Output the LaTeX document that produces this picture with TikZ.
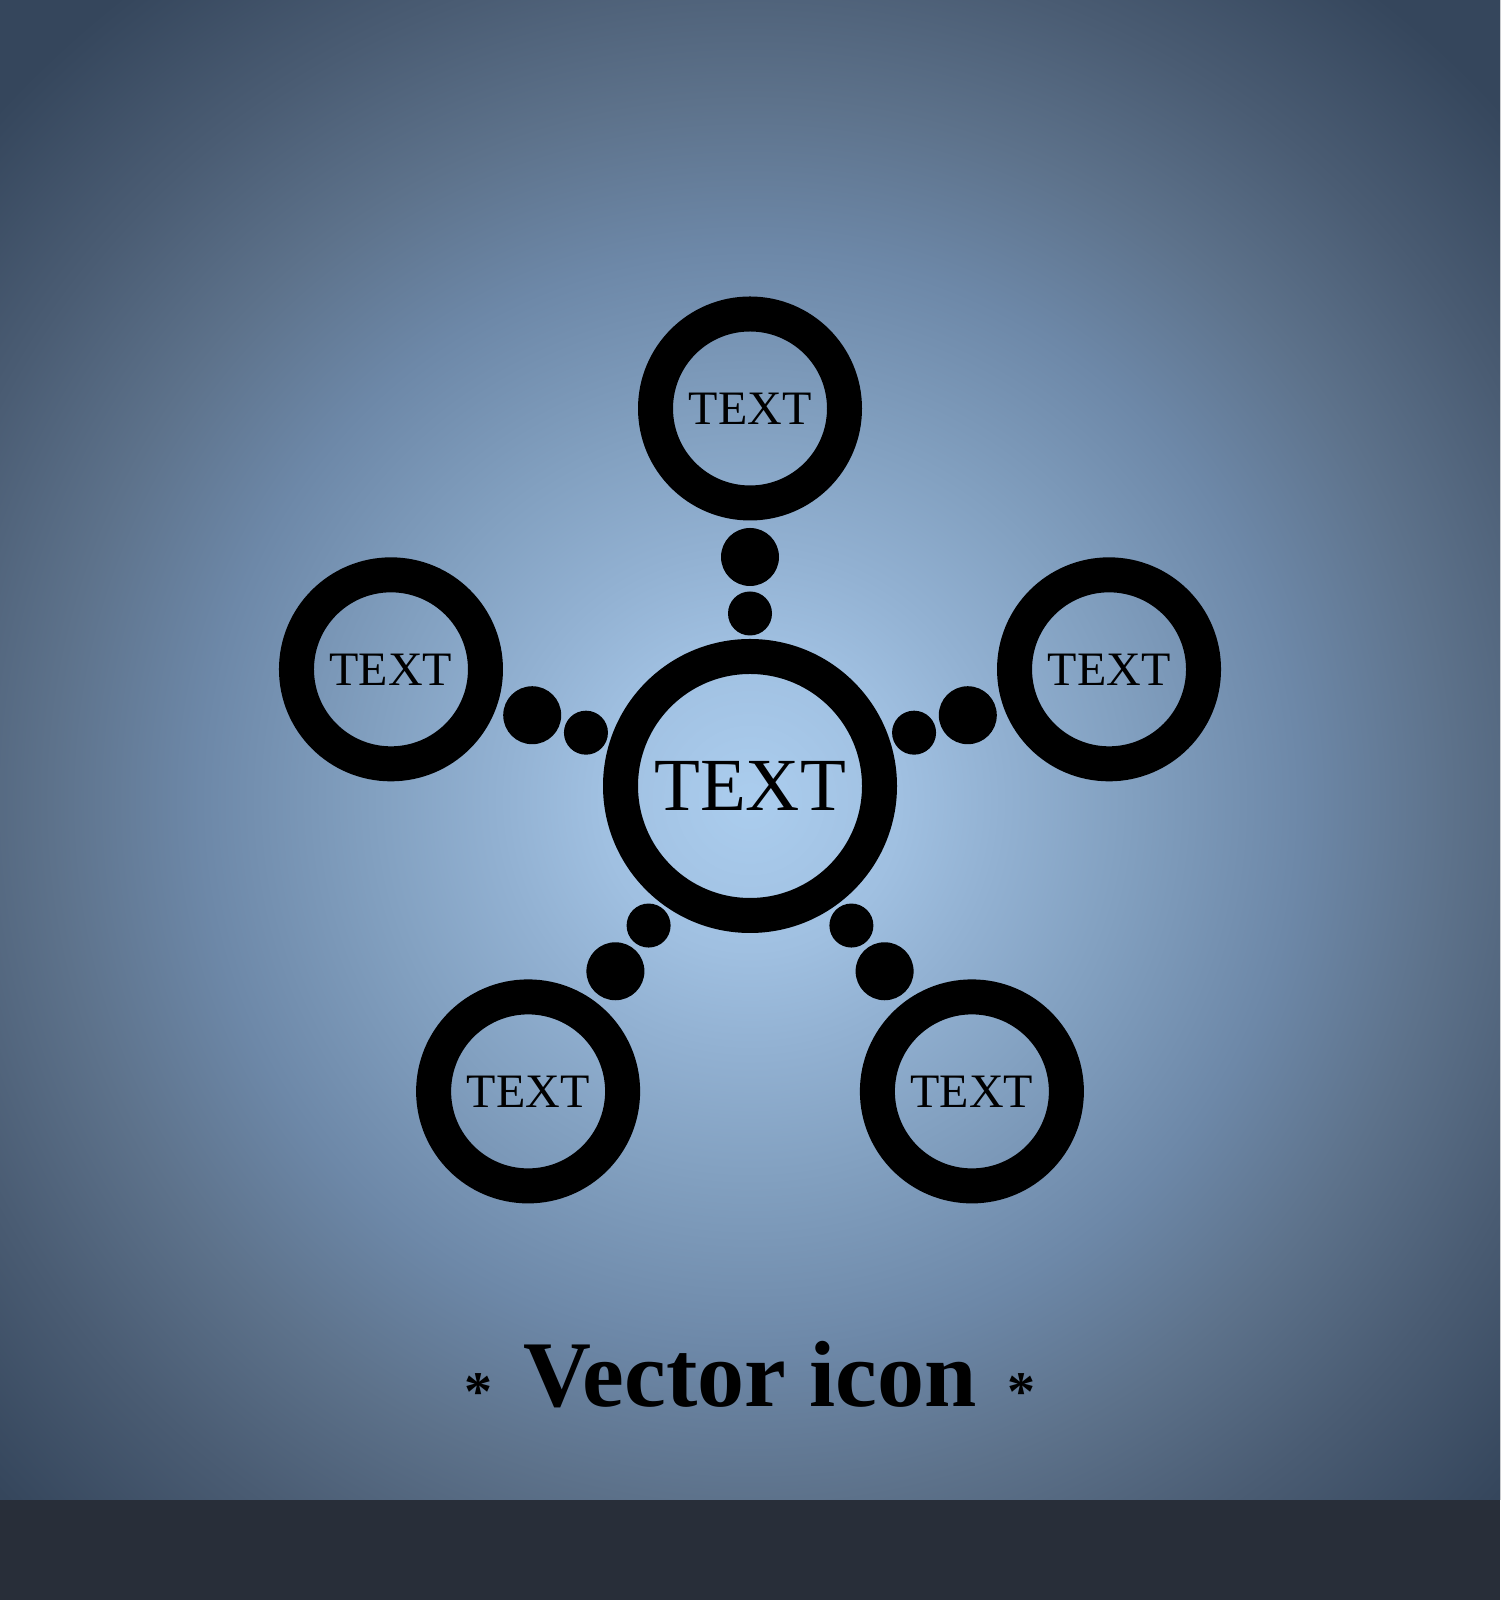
\documentclass[tikz,border=0pt]{standalone}
\usepackage{fontspec}
\setmainfont{Liberation Serif}
\usetikzlibrary{calc,positioning}
\definecolor{glowA}{HTML}{ABCDEE}
\definecolor{glowB}{HTML}{A0C0E1}
\definecolor{glowC}{HTML}{92B1D2}
\definecolor{glowD}{HTML}{82A0C0}
\definecolor{glowE}{HTML}{6D88A8}
\definecolor{glowF}{HTML}{5D728B}
\definecolor{glowG}{HTML}{4A5C73}
\definecolor{glowH}{HTML}{35465C}
\definecolor{barcol}{HTML}{282E39}
% stops in bp: 25bp..75bp of the shading is fitted to the 2200pt square, 1bp = 44pt
\pgfdeclareradialshading{bgglow}{\pgfpoint{0bp}{0bp}}{color(0bp)=(glowA); color(3.4bp)=(glowB); color(5.7bp)=(glowC); color(8.6bp)=(glowD); color(12.5bp)=(glowE); color(15.9bp)=(glowF); color(19.3bp)=(glowG); color(23.2bp)=(glowH); color(50bp)=(glowH)}
\tikzset{
	ring/.style={circle, draw=black, line width=35pt, minimum size=189pt, inner sep=0pt, font=\fontsize{48}{50}\selectfont},
	hubring/.style={ring, minimum size=259pt, font=\fontsize{75}{78}\selectfont},
	bigdot/.style={circle, fill=black, minimum size=58pt, inner sep=0pt},
	smalldot/.style={circle, fill=black, minimum size=44pt, inner sep=0pt},
	starmark/.style={anchor=base, inner sep=0pt, font=\fontsize{56}{58}\selectfont\bfseries}
}
\begin{document}
\begin{tikzpicture}[x=1pt, y=1pt]
			%%%%% START %%%%%
			\useasboundingbox (0, 0) rectangle (1500, 1600);
			
			\begin{scope}
				\clip (0, 100) rectangle (1500, 1600);
				\fill[shading=bgglow] (-350, -300) rectangle (1850, 1900);
			\end{scope}
			\fill[barcol] (0, 0) rectangle (1500, 100);
			
			\node[hubring] (hub) at (750, 814) {TEXT};
			
			\node[ring] (ltop) at ($(hub)+(90:377.5)$) {TEXT};
			\node[bigdot] (btop) at ($(hub)+(90:229)$) {};
			\node[smalldot] (stop) at ($(hub)+(90:172.5)$) {};
			
			\node[ring] (lleft) at ($(hub)+(162:377.5)$) {TEXT};
			\node[bigdot] (bleft) at ($(hub)+(162:229)$) {};
			\node[smalldot] (sleft) at ($(hub)+(162:172.5)$) {};
			
			\node[ring] (lright) at ($(hub)+(18:377.5)$) {TEXT};
			\node[bigdot] (bright) at ($(hub)+(18:229)$) {};
			\node[smalldot] (sright) at ($(hub)+(18:172.5)$) {};
			
			\node[ring] (lsw) at ($(hub)+(234:377.5)$) {TEXT};
			\node[bigdot] (bsw) at ($(hub)+(234:229)$) {};
			\node[smalldot] (ssw) at ($(hub)+(234:172.5)$) {};
			
			\node[ring] (lse) at ($(hub)+(306:377.5)$) {TEXT};
			\node[bigdot] (bse) at ($(hub)+(306:229)$) {};
			\node[smalldot] (sse) at ($(hub)+(306:172.5)$) {};
			
			% caption
			\node[anchor=base, inner sep=0pt, font=\fontsize{94}{100}\selectfont\bfseries] (caption) at (750, 193) {Vector icon};
			\node[starmark] (starl) at (478, 189) {*};
			\node[starmark] (starr) at (1021, 189) {*};
			%%%%% END %%%%%
\end{tikzpicture}
\end{document}
